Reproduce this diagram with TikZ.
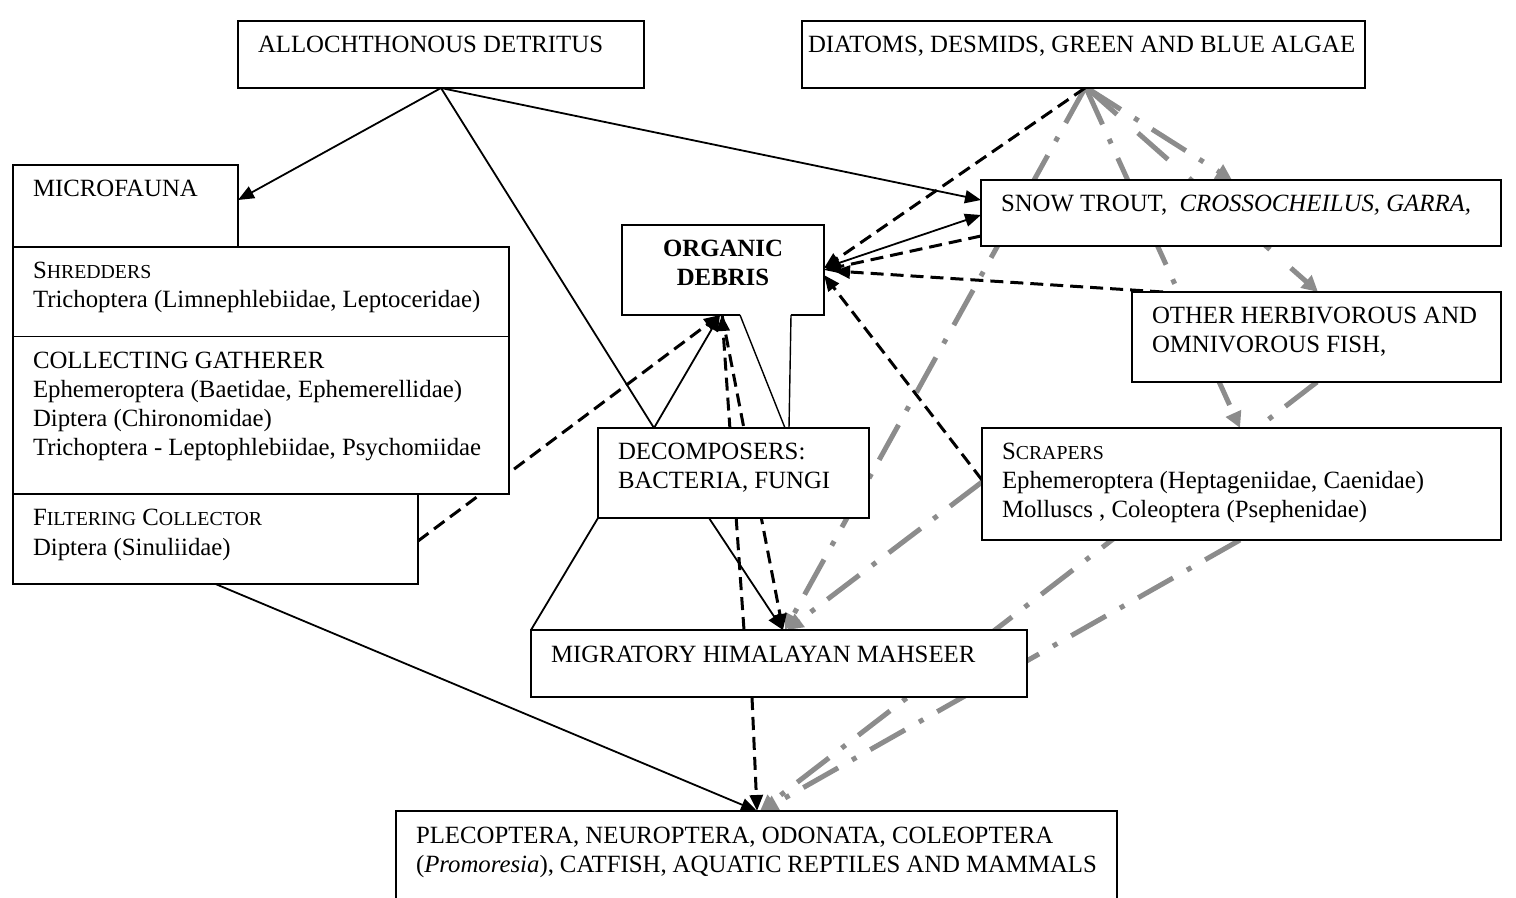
\documentclass[tikz,border=0pt]{standalone}
\usepackage{fontspec}
\setmainfont{Liberation Serif}
\usetikzlibrary{arrows.meta,calc,backgrounds}
\definecolor{lgray}{RGB}{140,140,140}
\newcommand{\tb}[3]{\parbox[t][#2][t]{#1}{\strut#3}}
\newcommand{\fsc}[2]{#1{\fontsize{9.9}{14.5}\selectfont #2}}
\begin{document}
\begin{tikzpicture}[x=0.5pt,y=-0.5pt,
  box/.style={draw, line width=0.8pt, fill=white, anchor=north west, inner xsep=10pt, inner ysep=5.85pt, outer sep=0pt, font=\fontsize{12.4}{14.5}\selectfont},
  bare/.style={box, draw=none},
  sline/.style={line width=0.9pt},
  sarrow/.style={line width=0.9pt, -{Triangle[length=8pt,width=6.5pt]}},
  darrow/.style={line width=1.5pt, dash pattern=on 6.5pt off 3.5pt, -{Triangle[length=8pt,width=6.5pt]}},
  garrow/.style={draw=lgray, line width=2.5pt, dash pattern=on 20pt off 8pt on 2.5pt off 8pt, -{Triangle[length=8pt,width=8pt,fill=lgray,color=lgray]}},
  glong/.style={draw=lgray, line width=2.5pt, dash pattern=on 20pt off 14pt, -{Triangle[length=8pt,width=8pt,fill=lgray,color=lgray]}},
  calloutline/.style={line width=0.7pt}
]
\useasboundingbox (0,0) rectangle (1516,898);

% boxes
\node[box] (allo) at (238,21) {\tb{183pt}{21.8pt}{ALLOCHTHONOUS DETRITUS}};
\node[box, inner xsep=3pt] (diat) at (802,21) {\tb{275.5pt}{21.8pt}{DIATOMS, DESMIDS, GREEN AND BLUE ALGAE}};
\node[box] (micro) at (13,165) {\tb{92.5pt}{29.3pt}{MICROFAUNA}};
\node[bare] (shred) at (13,247) {\tb{228pt}{33.3pt}{\fsc{S}{HREDDERS}\\Trichoptera (Limnephlebiidae, Leptoceridae)}};
\node[bare] (coll) at (13,337) {\tb{228pt}{66.8pt}{COLLECTING GATHERER\\Ephemeroptera (Baetidae, Ephemerellidae)\\Diptera (Chironomidae)\\Trichoptera - Leptophlebiidae, Psychomiidae}};
\draw[line width=0.8pt] (shred.north west) rectangle (coll.south east);
\draw[line width=0.5pt] (shred.south west) -- (shred.south east);
\node[box, line width=0.6pt] (filt) at (13,494) {\tb{182.5pt}{33.3pt}{\fsc{F}{ILTERING} \fsc{C}{OLLECTOR}\\Diptera (Sinuliidae)}};
\node[bare] (od) at (622,225) {\tb{81pt}{33.3pt}{\centering\bfseries ORGANIC\\DEBRIS}};
\draw[calloutline] ($(od.south west)+(118,0)$) -- (od.south west) -- (od.north west) -- (od.north east) -- (od.south east) -- ($(od.south west)+(169,0)$);
\node[box] (dec) at (598,428) {\tb{115.5pt}{33.3pt}{DECOMPOSERS:\\BACTERIA, FUNGI}};
\draw[calloutline] ($(od.south west)+(118,0)$) -- ($(dec.north west)+(187,0)$);
\draw[calloutline] ($(od.south west)+(169,0)$) -- ($(dec.north west)+(191,0)$);
\node[box] (mah) at (531,630) {\tb{228pt}{21.8pt}{MIGRATORY HIMALAYAN MAHSEER}};
\node[box] (bot) at (396,811) {\tb{340.5pt}{48.3pt}{PLECOPTERA, NEUROPTERA, ODONATA, COLEOPTERA\\(\textit{Promoresia}), CATFISH, AQUATIC REPTILES AND MAMMALS}};
\node[box] (snow) at (981,180) {\tb{240pt}{21.3pt}{SNOW TROUT,\ \ \textit{CROSSOCHEILUS, GARRA,}}};
\node[box] (oth) at (1132,292) {\tb{164.5pt}{33.3pt}{OTHER HERBIVOROUS AND\\OMNIVOROUS FISH,}};
\node[box] (scr) at (982,428) {\tb{239.5pt}{44.3pt}{\fsc{S}{CRAPERS}\\Ephemeroptera (Heptageniidae, Caenidae)\\Molluscs , Coleoptera (Psephenidae)}};

\begin{scope}[on background layer]
  % gray dash-dot connectors
  \draw[garrow] ($(diat.south west)+(283,0)$) -- ($(mah.north west)+(254,0)$);
  \draw[garrow] ($(diat.south west)+(284,0)$) -- ($(scr.north west)+(258,0)$);
  \draw[glong]  ($(diat.south west)+(285,0)$) -- ($(oth.north west)+(186,0)$);
  \draw[garrow] ($(diat.south west)+(285,0)$) -- ($(snow.north west)+(251,0)$);
  \draw[garrow] ($(oth.south west)+(185,0)$) -- ($(bot.north west)+(364,0)$);
  \draw[garrow] ($(scr.south west)+(258,0)$) -- ($(bot.north west)+(366,0)$);
  \draw[garrow] ($(scr.north west)+(0,54)$) -- ($(mah.north west)+(256,0)$);
  % black solid connectors
  \draw[sarrow] (allo.south) -- ($(micro.north east)+(0,35)$);
  \draw[sarrow] (allo.south) -- ($(snow.north west)+(0,20)$);
  \draw[sarrow] (allo.south) -- ($(dec.north west)+(56,0)$) -- ($(od.south west)+(98,0)$);
  \draw[sline, {Triangle[length=8pt,width=6.5pt]}-{Triangle[length=8pt,width=6.5pt]}] ($(od.north east)+(0,43)$) -- ($(snow.north west)+(0,35)$);
  \draw[sarrow] (filt.south) -- ($(bot.north west)+(361,0)$);
  \draw[sarrow] ($(dec.south west)+(111,0)$) -- ($(mah.north west)+(252,0)$);
  \draw[sline] (dec.south west) -- (mah.north west);
  % black dashed connectors
  \draw[darrow] ($(diat.south west)+(283,0)$) -- ($(od.north east)+(0,43)$);
  \draw[darrow] ($(snow.north west)+(0,56)$) -- ($(od.north east)+(0,45)$);
  \draw[darrow] ($(oth.north west)+(31,0)$) -- ($(od.north east)+(10,46)$);
  \draw[darrow] ($(scr.north west)+(0,52)$) -- ($(od.north east)+(0,50)$);
  \draw[darrow] ($(filt.north east)+(0,47)$) -- ($(od.south west)+(98,0)$);
  \draw[darrow] ($(mah.north west)+(213,0)$) -- ($(od.south west)+(100,0)$);
  \draw[darrow] ($(od.south west)+(100,0)$) -- ($(mah.north west)+(252,0)$);
  \draw[darrow] ($(mah.south west)+(221,0)$) -- ($(bot.north west)+(361,0)$);
\end{scope}
\end{tikzpicture}
\end{document}
